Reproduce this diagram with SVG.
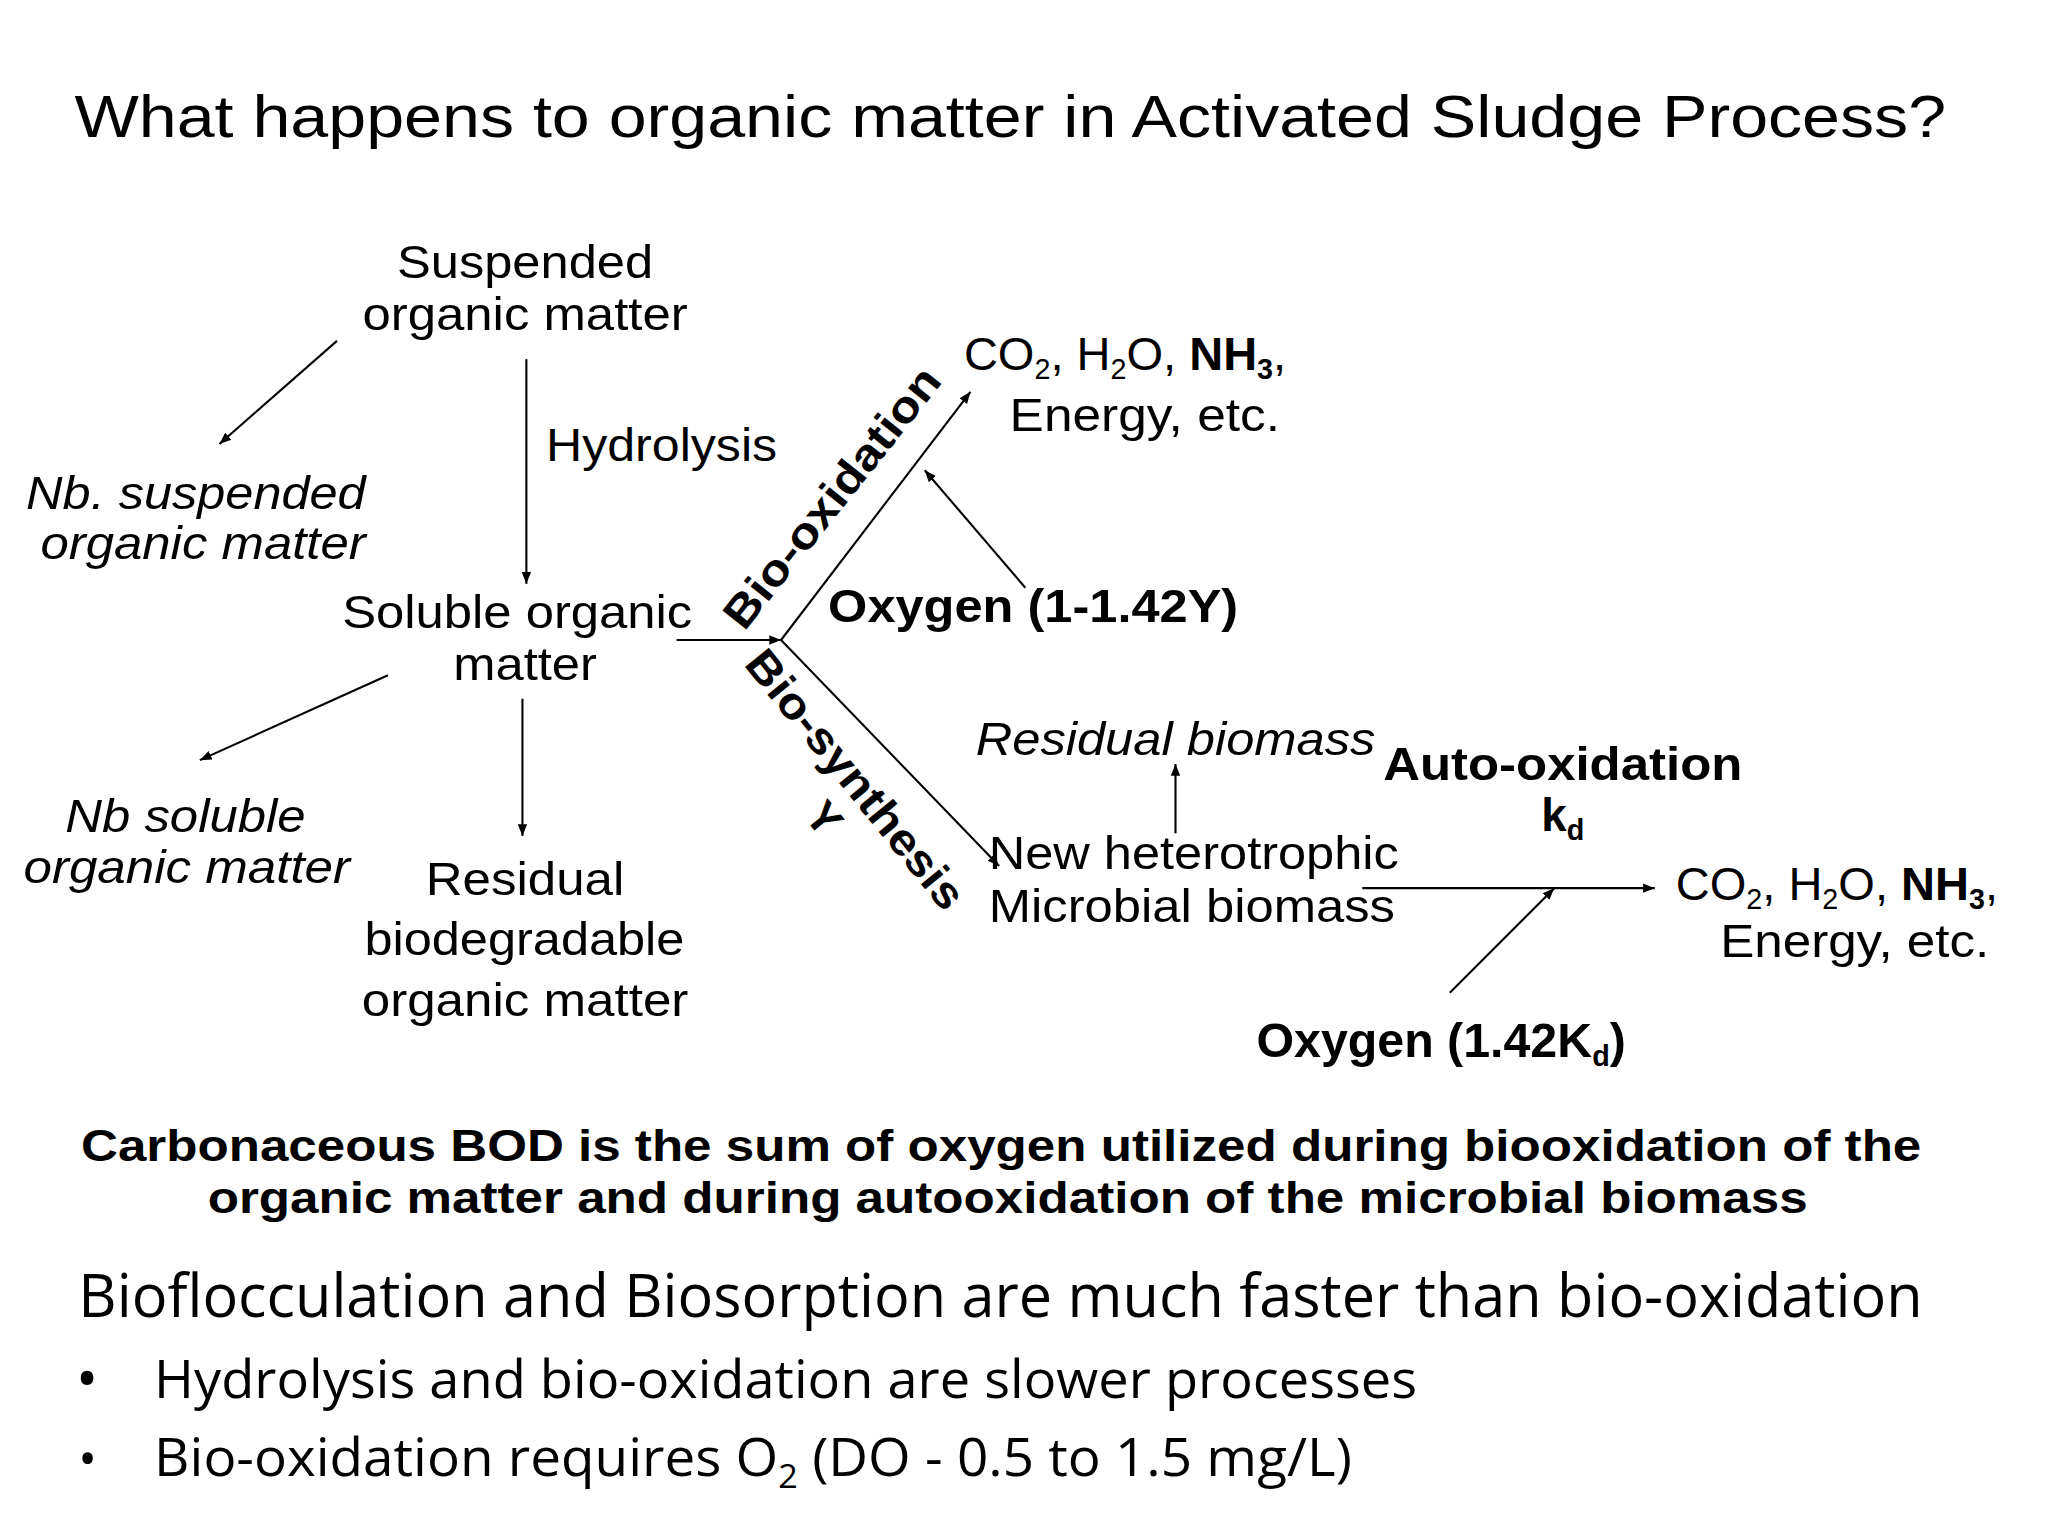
<svg xmlns="http://www.w3.org/2000/svg" width="2048" height="1536" viewBox="0 0 2048 1536">
<style>
text{font-family:"Liberation Sans",Arial,sans-serif;fill:#000}
.c{text-anchor:middle}.i{font-style:italic}.b{font-weight:bold}
.k{font-family:"Open Sans","Noto Sans",sans-serif;}
line{stroke:#000;stroke-width:1.6;marker-end:url(#a)}
</style>
<defs><marker id="a" viewBox="0 0 10 10" refX="10" refY="5" markerWidth="9" markerHeight="9" markerUnits="userSpaceOnUse" orient="auto"><path d="M0,1L10,5L0,9z" fill="#000"/></marker></defs>
<rect width="2048" height="1536" fill="#fff"/>
<g transform="scale(1.30612)" font-size="35">
<text x="57" y="105" font-size="46" textLength="1433" lengthAdjust="spacingAndGlyphs">What happens to organic matter in Activated Sludge Process?</text>
<g id="connectors">
<line x1="258" y1="261" x2="168" y2="340"/>
<line x1="403" y1="275" x2="403" y2="447"/>
<line x1="518" y1="490" x2="598" y2="490"/>
<line x1="598" y1="490" x2="743" y2="300"/>
<line x1="598" y1="490" x2="765" y2="663"/>
<line x1="785" y1="450" x2="708" y2="360"/>
<line x1="297" y1="517" x2="153" y2="582"/>
<line x1="400" y1="535" x2="400" y2="640"/>
<line x1="900" y1="638" x2="900" y2="585"/>
<line x1="1043" y1="680" x2="1267" y2="680"/>
<line x1="1110" y1="760" x2="1190" y2="680"/>
</g>
<g id="suspended"><text class="c" x="402" y="213" textLength="196" lengthAdjust="spacingAndGlyphs">Suspended</text><text class="c" x="402" y="253" textLength="249" lengthAdjust="spacingAndGlyphs">organic matter</text></g>
<g id="hydrolysis"><text x="418" y="353" textLength="177" lengthAdjust="spacingAndGlyphs">Hydrolysis</text></g>
<g id="nbsusp"><text class="i" x="20" y="390" textLength="260" lengthAdjust="spacingAndGlyphs">Nb. suspended</text><text class="i" x="31" y="428" textLength="249" lengthAdjust="spacingAndGlyphs">organic matter</text></g>
<g id="soluble"><text x="262" y="481" textLength="268" lengthAdjust="spacingAndGlyphs">Soluble organic</text><text x="347" y="521" textLength="110" lengthAdjust="spacingAndGlyphs">matter</text></g>
<g id="biooxlabel"><text class="b c" transform="translate(646,388) rotate(-51.5)" font-size="34" textLength="245" lengthAdjust="spacingAndGlyphs">Bio-oxidation</text></g>
<g id="biosynlabel"><text class="b c" transform="translate(646,604) rotate(51)" font-size="34" textLength="245" lengthAdjust="spacingAndGlyphs">Bio-synthesis</text><text class="b c" transform="translate(622,634) rotate(51)" font-size="34">Y</text></g>
<g id="oxy1"><text class="b" x="634" y="476" textLength="314" lengthAdjust="spacingAndGlyphs">Oxygen (1-1.42Y)</text></g>
<g id="co2a"><text x="738" y="283" font-size="36">CO<tspan font-size="22" dy="7">2</tspan><tspan dy="-7">, H</tspan><tspan font-size="22" dy="7">2</tspan><tspan dy="-7">O, </tspan><tspan class="b">NH</tspan><tspan class="b" font-size="22" dy="7">3</tspan><tspan dy="-7">,</tspan></text><text x="773" y="330" textLength="207" lengthAdjust="spacingAndGlyphs">Energy, etc.</text></g>
<g id="nbsol"><text class="i c" x="142" y="637" textLength="184" lengthAdjust="spacingAndGlyphs">Nb soluble</text><text class="i" x="18" y="676" textLength="250" lengthAdjust="spacingAndGlyphs">organic matter</text></g>
<g id="residual"><text class="c" x="402" y="685" textLength="152" lengthAdjust="spacingAndGlyphs">Residual</text><text x="279" y="731" textLength="245" lengthAdjust="spacingAndGlyphs">biodegradable</text><text x="277" y="778" textLength="250" lengthAdjust="spacingAndGlyphs">organic matter</text></g>
<g id="resbio"><text class="i" x="747" y="578" textLength="306" lengthAdjust="spacingAndGlyphs">Residual biomass</text></g>
<g id="newbio"><text x="757" y="665" textLength="314" lengthAdjust="spacingAndGlyphs">New heterotrophic</text><text x="757" y="706" textLength="311" lengthAdjust="spacingAndGlyphs">Microbial biomass</text></g>
<g id="autoox"><text class="b" x="1059" y="597" textLength="275" lengthAdjust="spacingAndGlyphs">Auto-oxidation</text><text class="b" x="1180" y="636">k<tspan font-size="22" dy="7">d</tspan></text></g>
<g id="co2b"><text x="1283" y="689" font-size="36">CO<tspan font-size="22" dy="7">2</tspan><tspan dy="-7">, H</tspan><tspan font-size="22" dy="7">2</tspan><tspan dy="-7">O, </tspan><tspan class="b">NH</tspan><tspan class="b" font-size="22" dy="7">3</tspan><tspan dy="-7">,</tspan></text><text x="1317" y="733" textLength="206" lengthAdjust="spacingAndGlyphs">Energy, etc.</text></g>
<g id="oxy2"><text class="b" x="962" y="809" font-size="37">Oxygen (1.42K<tspan font-size="22" dy="7">d</tspan><tspan dy="-7">)</tspan></text></g>
<g id="note"><text class="b" x="62" y="889" font-size="34" textLength="1409" lengthAdjust="spacingAndGlyphs">Carbonaceous BOD is the sum of oxygen utilized during biooxidation of the</text><text class="b" x="159" y="929" font-size="34" textLength="1225" lengthAdjust="spacingAndGlyphs">organic matter and during autooxidation of the microbial biomass</text></g>
<g id="bullets"><text class="k" x="60" y="1008" font-size="46" textLength="1412" lengthAdjust="spacingAndGlyphs">Bioflocculation and Biosorption are much faster than bio-oxidation</text>
<text class="k" x="58" y="1072" font-size="46">•</text><text class="k" x="118" y="1070" font-size="40" textLength="967" lengthAdjust="spacingAndGlyphs">Hydrolysis and bio-oxidation are slower processes</text>
<text class="k" x="60" y="1130" font-size="38">•</text><text class="k" x="118" y="1130" font-size="40" textLength="917" lengthAdjust="spacingAndGlyphs">Bio-oxidation requires O<tspan font-size="25" dy="9">2</tspan><tspan dy="-9"> (DO - 0.5 to 1.5 mg/L)</tspan></text></g>
</g>
</svg>
